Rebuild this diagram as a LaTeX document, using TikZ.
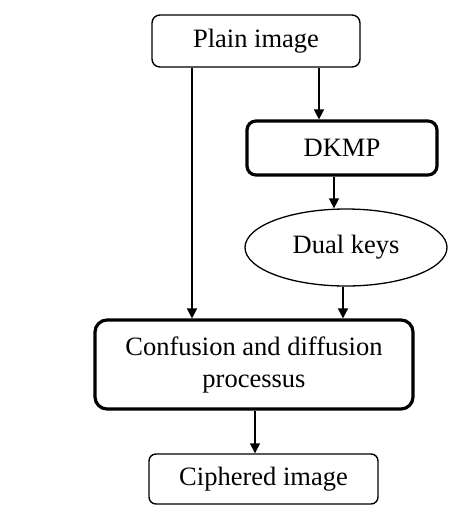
\documentclass[tikz,border=0pt]{standalone}
\usepackage{fontspec}
\setmainfont{Liberation Serif}
\usetikzlibrary{arrows.meta,shapes.geometric}
\begin{document}
\begin{tikzpicture}[x=1pt,y=1pt,
  thinbox/.style={draw, rounded corners=8pt, line width=1.4pt, minimum width=#1, inner sep=0pt},
  thickbox/.style={draw, rounded corners=9pt, line width=3.2pt, inner sep=0pt},
  arr/.style={line width=1.5pt, -{Triangle[length=10pt,width=10pt]}},
  lbl/.style={font=\fontsize{26.5}{32}\selectfont}]
\useasboundingbox (0,0) rectangle (474,-515);
\node[thinbox=208pt, minimum height=52pt, lbl] (plain) at (256,-41) {Plain image};
\node[thickbox, minimum width=190pt, minimum height=54pt, lbl] (dkmp) at (342,-148) {DKMP};
\node[draw, ellipse, line width=1.3pt, minimum width=202pt, minimum height=77pt, inner sep=0pt, lbl] (keys) at (346,-247.5) {Dual keys};
\node[thickbox, rounded corners=12pt, minimum width=318pt, minimum height=89pt, lbl, align=center] (conf) at (254,-364.5) {Confusion and diffusion\\processus};
\node[thinbox=229pt, rounded corners=7pt, minimum height=50pt, lbl] (ciph) at (263.5,-479) {Ciphered image};
\coordinate (xl) at (192,0);
\coordinate (xa) at (319,0);
\coordinate (xb) at (334,0);
\coordinate (xc) at (343,0);
\coordinate (xd) at (255,0);
\draw[arr] (xl |- plain.south) -- (xl |- conf.north);
\draw[arr] (xa |- plain.south) -- (xa |- dkmp.north);
\draw[arr] (xb |- dkmp.south) -- (xb |- keys.north);
\draw[arr] (xc |- keys.south) -- (xc |- conf.north);
\draw[arr] (xd |- conf.south) -- (xd |- ciph.north);
\end{tikzpicture}
\end{document}
